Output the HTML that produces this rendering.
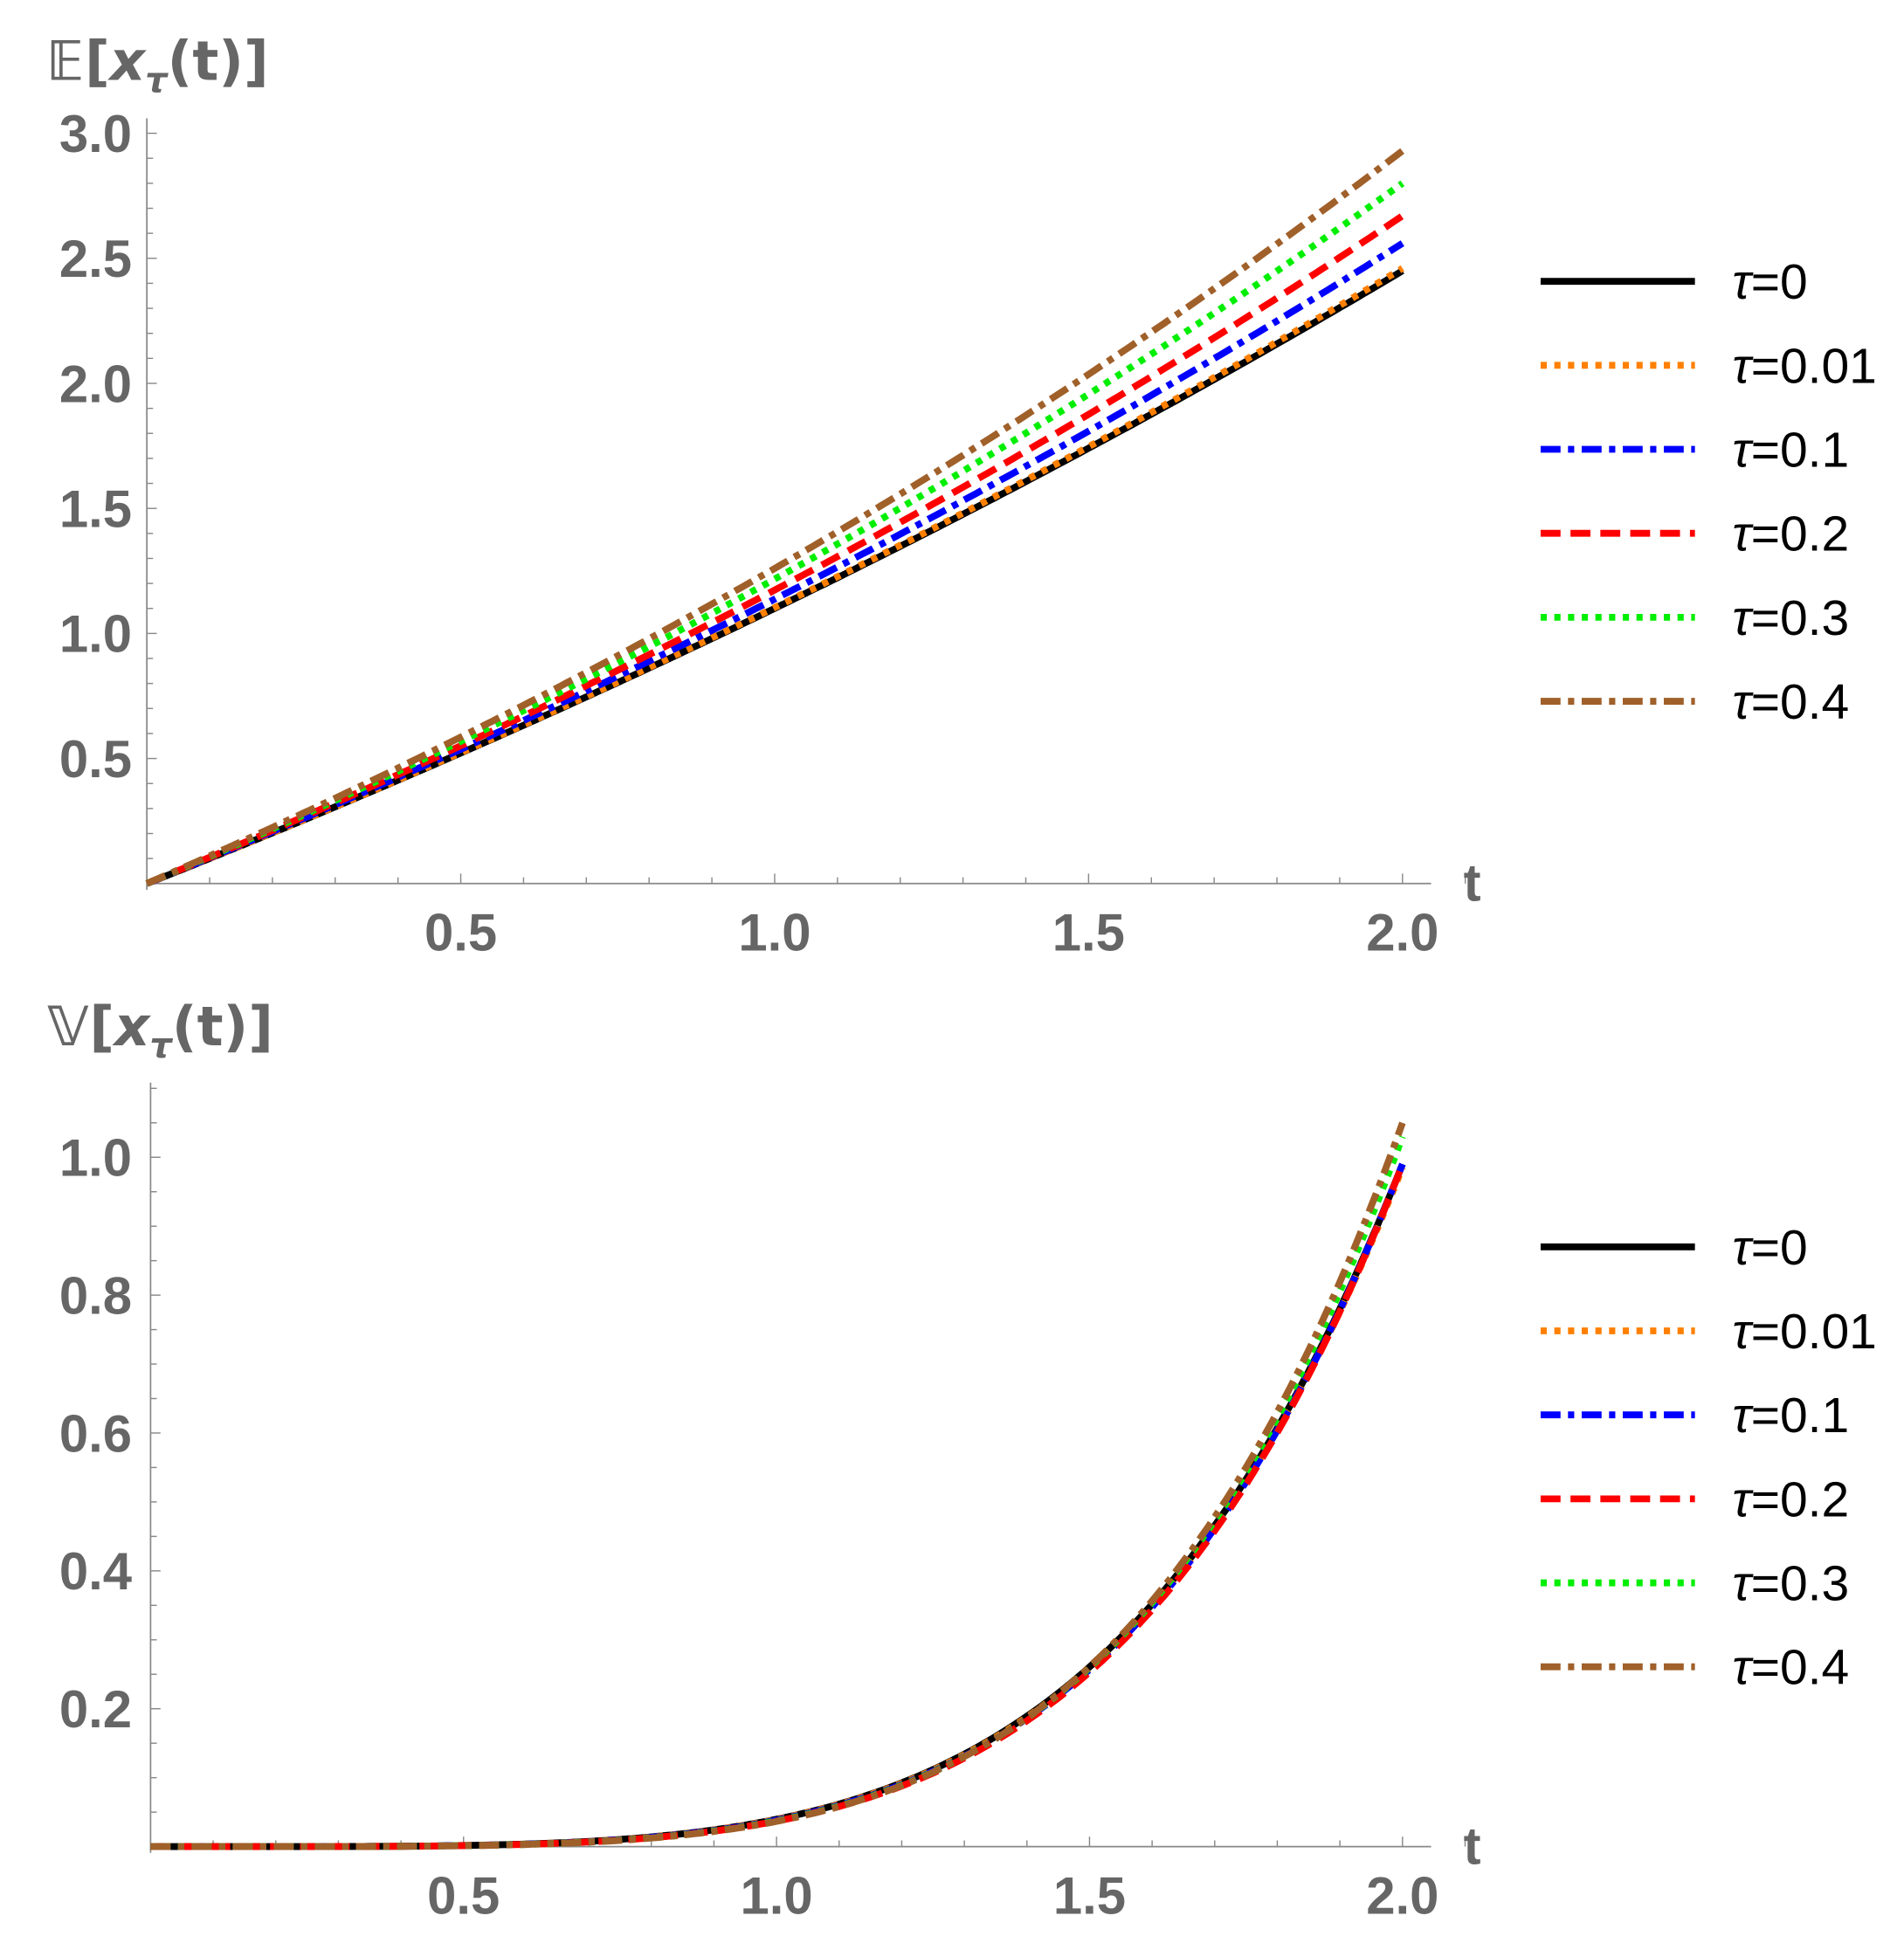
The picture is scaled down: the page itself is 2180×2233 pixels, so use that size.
<!DOCTYPE html>
<html><head><meta charset="utf-8"><style>
html,body{margin:0;padding:0;background:#fff;}
svg{display:block;}
text{font-family:"Liberation Sans","DejaVu Sans",sans-serif;font-weight:bold;fill:#666;}
</style></head><body>
<svg id="s" width="2180" height="2233" viewBox="0 0 1530 1567" xmlns="http://www.w3.org/2000/svg">
<g id="g"></g>
<text x="38" y="64" font-size="44" style="font-family:'DejaVu Sans','Liberation Sans',sans-serif">𝔼[<tspan font-style="italic">x</tspan><tspan font-size="28" dy="10" font-style="italic">τ</tspan><tspan dy="-10">(t)]</tspan></text>
<text x="38" y="840" font-size="44" style="font-family:'DejaVu Sans','Liberation Sans',sans-serif">𝕍[<tspan font-style="italic">x</tspan><tspan font-size="28" dy="10" font-style="italic">τ</tspan><tspan dy="-10">(t)]</tspan></text>
</svg>
<script>
var NS="http://www.w3.org/2000/svg",g=document.getElementById("g");
function el(n,a,t){var e=document.createElementNS(NS,n);for(var k in a)e.setAttribute(k,a[k]);if(t!=null)e.textContent=t;g.appendChild(e);return e;}
var styles=[
 {c:"#000",d:""},
 {c:"#ff8000",d:"5 6"},
 {c:"#0000ff",d:"16 6 5 6"},
 {c:"#ff0000",d:"16 8"},
 {c:"#00ee00",d:"5 6"},
 {c:"#a0602a",d:"16 6 5 6"}];
var taus=["0","0.01","0.1","0.2","0.3","0.4"],tv=[0,0.01,0.1,0.2,0.3,0.4];
function axes(x0,y0,xs,ys,ymax,ymaj,ymin,ytop,labs){
 el("line",{x1:x0,y1:y0,x2:1150,y2:y0,stroke:"#888","stroke-width":1.2});
 el("line",{x1:x0,y1:y0+5,x2:x0,y2:ytop,stroke:"#888","stroke-width":1.2});
 for(var i=1;i<=21;i++){var x=x0+i*0.1*xs;var maj=i%5==0;el("line",{x1:x,y1:y0,x2:x,y2:y0-(maj?8:5),stroke:"#888","stroke-width":1});}
 [0.5,1.0,1.5,2.0].forEach(function(v){el("text",{x:x0+v*xs,y:y0+54,"font-size":42,"text-anchor":"middle"},v.toFixed(1));});
 el("text",{x:1183,y:y0+14,"font-size":42,"text-anchor":"middle"},"t");
 var n=Math.round(ymax/ymin);
 for(var i=1;i<=n;i++){var v=i*ymin,y=y0-v*ys;var maj=Math.abs(v/ymaj-Math.round(v/ymaj))<1e-6;el("line",{x1:x0,y1:y,x2:x0+(maj?8:5),y2:y,stroke:"#888","stroke-width":1});}
 labs.forEach(function(v){el("text",{x:106,y:y0-v*ys+15,"font-size":42,"text-anchor":"end"},v.toFixed(1));});
}
axes(118,710,504.5,201,3.05,0.5,0.1,95,[0.5,1,1.5,2,2.5,3]);
axes(121,1484,503,554,1.1,0.2,0.05,870,[0.2,0.4,0.6,0.8,1.0]);
var Ef=[2.45,2.46,2.56,2.67,2.80,2.93];
var Vf=[0.99,0.985,0.99,0.99,1.03,1.05];
for(var k=0;k<6;k++){
 var tau=tv[k],a=0.2046+0.193*tau,c=Ef[k]/(Math.exp(2*a)-1);
 var p="",q="",kk=4.64+0.5*tau;
 for(var i=0;i<=200;i++){var t=i/100;
  var e=c*(Math.exp(a*t)-1);p+=(i?"L":"M")+(118+t*504.5).toFixed(1)+" "+(710-e*201).toFixed(1);
  var v=Vf[k]*Math.pow(t/2,kk);q+=(i?"L":"M")+(121+t*503).toFixed(1)+" "+(1484-v*554).toFixed(1);}
 var st=styles[k];
 [p,q].forEach(function(d){el("path",{d:d,fill:"none",stroke:st.c,"stroke-width":5.5,"stroke-dasharray":st.d});});
}
function legend(y0){
 for(var k=0;k<6;k++){var y=y0+k*67.5,st=styles[k];
  el("line",{x1:1238,y1:y,x2:1362,y2:y,stroke:st.c,"stroke-width":5.5,"stroke-dasharray":st.d});
  var t=el("text",{x:1392,y:y+14,"font-size":40,style:"font-weight:normal;fill:#000"});
  t.innerHTML='<tspan font-style="italic">τ</tspan>='+taus[k];}
}
legend(226);legend(1002);
</script>
</body></html>
